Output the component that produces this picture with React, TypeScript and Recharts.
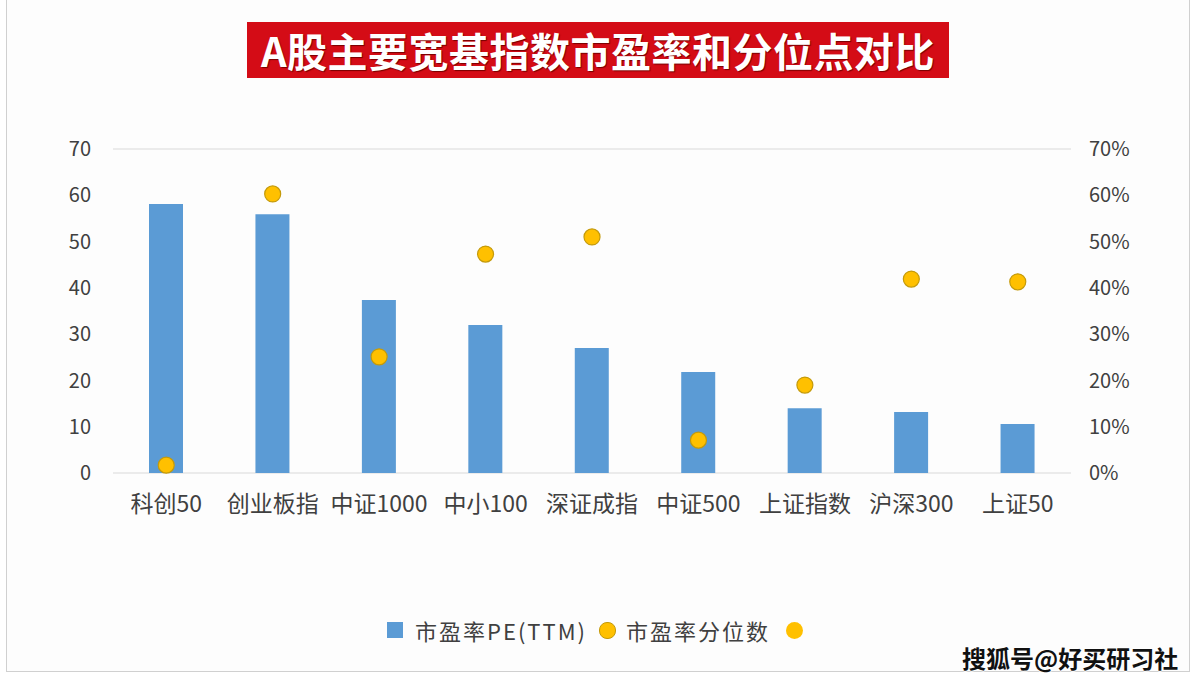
import React from 'react';
import {
  ComposedChart, Bar, Scatter, XAxis, YAxis, CartesianGrid,
} from 'recharts';

const categories = ['科创50', '创业板指', '中证1000', '中小100', '深证成指', '中证500', '上证指数', '沪深300', '上证50'];
const peValues = [58.1, 55.9, 37.4, 32.0, 27.0, 21.8, 14.0, 13.2, 10.6];
const pctValues = [0.017, 0.603, 0.251, 0.473, 0.51, 0.071, 0.19, 0.419, 0.413];
const leftTicks = [0, 10, 20, 30, 40, 50, 60, 70];
const rightTicks = [0, 0.1, 0.2, 0.3, 0.4, 0.5, 0.6, 0.7];

const data = categories.map((name, i) => ({ name, pe: peValues[i], pct: pctValues[i] }));

const FONT = '"Noto Sans CJK SC", "Noto Sans", sans-serif';
const BLUE = '#5b9bd5';
const GOLD = '#ffc000';
const GOLD_EDGE = '#c49a0a';

const Dot = (props: any) => {
  const { cx, cy } = props;
  if (cx == null || cy == null) return null;
  return <circle cx={cx} cy={cy} r={8} fill={GOLD} stroke={GOLD_EDGE} strokeWidth={1.2} />;
};

export default function App() {
  return (
    <div style={{ position: 'fixed', left: 0, top: 0, width: 1198, height: 682, background: '#fff', overflow: 'hidden' }}>
      <div style={{ position: 'absolute', left: 6, top: -2, width: 1184, height: 674, border: '1px solid #d0d0d0', background: '#fdfdfd', boxSizing: 'border-box' }} />
      <div style={{
        position: 'absolute', left: 247, top: 22, width: 702, height: 56, background: '#d40c16',
        color: '#fff', fontFamily: FONT, fontWeight: 700, fontSize: 40, lineHeight: '56px', textAlign: 'center',
        textShadow: '1px 1px 1px #700', letterSpacing: 0.5,
      }}>
        A股主要宽基指数市盈率和分位点对比
      </div>
      <div style={{ position: 'absolute', left: 0, top: 0 }}>
        <ComposedChart width={1198} height={682} data={data} margin={{ top: 149, right: 0, bottom: 149, left: 0 }}>
          <CartesianGrid vertical={false} stroke="#d9d9d9" strokeWidth={1.2} />
          <XAxis dataKey="name" axisLine={false} tickLine={false} interval={0} height={60}
            tick={{ fontSize: 23, fill: '#404040', fontFamily: FONT }} dy={15} />
          <YAxis yAxisId="left" domain={[0, 70]} ticks={leftTicks} width={113} axisLine={false} tickLine={false}
            tick={{ fontSize: 20, fill: '#404040', fontFamily: FONT }} dx={-14} />
          <YAxis yAxisId="right" orientation="right" domain={[0, 0.7]} ticks={rightTicks} width={127} axisLine={false} tickLine={false}
            tickFormatter={(v: number) => `${Math.round(v * 100)}%`}
            tick={{ fontSize: 20, fill: '#404040', fontFamily: FONT }} dx={10} />
          <Bar yAxisId="left" dataKey="pe" name="市盈率PE(TTM)" fill={BLUE} barSize={34} isAnimationActive={false} />
          <Scatter yAxisId="right" dataKey="pct" name="市盈率分位数" shape={<Dot />} isAnimationActive={false} />
        </ComposedChart>
      </div>
      <div style={{
        position: 'absolute', left: 387, top: 614, height: 32, display: 'flex', alignItems: 'center',
        fontFamily: FONT, fontSize: 22, color: '#404040', letterSpacing: 2, whiteSpace: 'nowrap',
      }}>
        <span style={{ width: 16, height: 16, background: BLUE, display: 'inline-block', marginRight: 12 }} />
        <span>市盈率PE(TTM)</span>
        <span style={{ width: 15, height: 15, borderRadius: 8, background: GOLD, border: `1px solid ${GOLD_EDGE}`, display: 'inline-block', margin: '0 10px 0 12px' }} />
        <span>市盈率分位数</span>
        <span style={{ width: 17, height: 17, borderRadius: 9, background: GOLD, display: 'inline-block', marginLeft: 16 }} />
      </div>
      <div style={{
        position: 'absolute', left: 962, top: 640, fontFamily: FONT, fontWeight: 700, fontSize: 24, color: '#111',
        textShadow: '-1px 0 #fff, 1px 0 #fff, 0 -1px #fff, 0 1px #fff',
      }}>
        搜狐号@好买研习社
      </div>
    </div>
  );
}
